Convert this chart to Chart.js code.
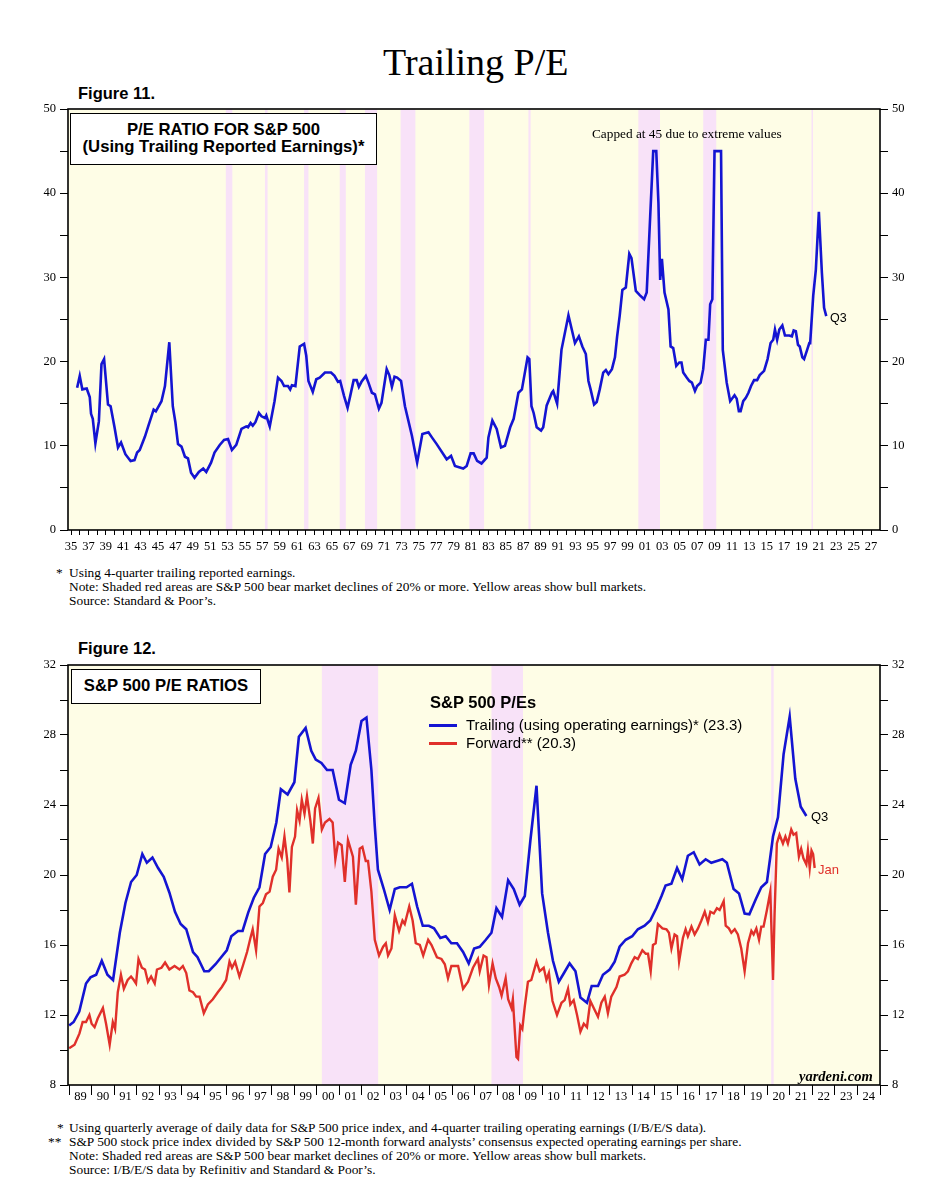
<!DOCTYPE html>
<html>
<head>
<meta charset="utf-8">
<title>Trailing P/E</title>
<script src="https://cdn.jsdelivr.net/npm/chart.js@4.4.0/dist/chart.umd.min.js"></script>
<style>
  body { margin: 0; background: #fff; }
  #page { position: relative; width: 940px; height: 1200px; overflow: hidden; color: #000;
          font-family: "Liberation Serif", "Times New Roman", serif; }
  .abs { position: absolute; white-space: nowrap; }
  .sans { font-family: "Liberation Sans", Arial, sans-serif; }
  .fig { font-weight: bold; font-size: 16.5px; line-height: 18px; }
  .box { background: #fff; border: 1.5px solid #000; text-align: center; font-weight: bold;
         font-size: 16.7px; line-height: 17px; box-sizing: border-box; }
  .note { font-size: 13.4px; line-height: 14px; }
  canvas { position: absolute; left: 0; }
</style>
</head>
<body>
<div id="page">
  <div class="abs" style="left:383px; top:40px; font-size:38px; line-height:44px;">Trailing P/E</div>

  <!-- Figure 11 -->
  <div class="abs sans fig" style="left:78px; top:84px;">Figure 11.</div>
  <canvas id="fig11" width="940" height="465" style="top:95px;"></canvas>
  <div class="abs sans box" style="left:70px; top:113px; width:307px; height:52px; padding-top:7px;">P/E RATIO FOR S&amp;P 500<br>(Using Trailing Reported Earnings)*</div>
  <div class="abs" style="left:592px; top:126px; font-size:13.3px; line-height:16px;">Capped at 45 due to extreme values</div>
  <div class="abs sans" style="left:830px; top:310px; font-size:12.5px; line-height:16px;">Q3</div>
  <div class="abs note" style="left:56px; top:566px;">*</div>
  <div class="abs note" style="left:69px; top:566px;">Using 4-quarter trailing reported earnings.<br>Note: Shaded red areas are S&amp;P 500 bear market declines of 20% or more. Yellow areas show bull markets.<br>Source: Standard &amp; Poor’s.</div>

  <!-- Figure 12 -->
  <div class="abs sans fig" style="left:78px; top:639px;">Figure 12.</div>
  <canvas id="fig12" width="940" height="465" style="top:650px;"></canvas>
  <div class="abs sans box" style="left:71px; top:669px; width:190px; height:35px; padding-top:7px;">S&amp;P 500 P/E RATIOS</div>
  <div class="abs sans" style="left:430px; top:692px; font-size:16.5px; line-height:20px; font-weight:bold;">S&amp;P 500 P/Es</div>
  <div class="abs" style="left:429px; top:724px; width:28px; height:3px; background:#1414d2;"></div>
  <div class="abs sans" style="left:466px; top:716px; font-size:15px; line-height:18px;">Trailing (using operating earnings)* (23.3)</div>
  <div class="abs" style="left:429px; top:742px; width:28px; height:3px; background:#e0302a;"></div>
  <div class="abs sans" style="left:466px; top:734px; font-size:15px; line-height:18px;">Forward** (20.3)</div>
  <div class="abs sans" style="left:811px; top:809px; font-size:13px; line-height:16px;">Q3</div>
  <div class="abs sans" style="left:818px; top:862px; font-size:13px; line-height:16px; color:#e0302a;">Jan</div>
  <div class="abs" style="left:799px; top:1068px; font-size:14.5px; line-height:17px; font-style:italic; font-weight:bold;">yardeni.com</div>
  <div class="abs note" style="left:57px; top:1121px;">*</div>
  <div class="abs note" style="left:48px; top:1135px;">**</div>
  <div class="abs note" style="left:69px; top:1121px;">Using quarterly average of daily data for S&amp;P 500 price index, and 4-quarter trailing operating earnings (I/B/E/S data).<br>S&amp;P 500 stock price index divided by S&amp;P 500 12-month forward analysts’ consensus expected operating earnings per share.<br>Note: Shaded red areas are S&amp;P 500 bear market declines of 20% or more. Yellow areas show bull markets.<br>Source: I/B/E/S data by Refinitiv and Standard &amp; Poor’s.</div>
</div>

<script>
// ---- Figure 11 data: trailing reported P/E (year, value) ----
const peYears11 = [1935.7, 1936.0, 1936.3, 1936.8, 1937.15, 1937.3, 1937.5, 1937.8, 1938.2, 1938.5, 1938.8,
  1939.25, 1939.55, 1940.0, 1940.4, 1940.75, 1941.25, 1941.85, 1942.3, 1942.6, 1942.9, 1943.5, 1943.9,
  1944.5, 1944.75, 1945.4, 1945.8, 1946.3, 1946.7, 1947.0, 1947.3, 1947.7, 1948.1, 1948.45, 1948.8,
  1949.2, 1949.7, 1950.2, 1950.55, 1951.1, 1951.5, 1952.1, 1952.6, 1953.05, 1953.5, 1954.0, 1954.6,
  1955.15, 1955.35, 1955.65, 1955.9, 1956.2, 1956.6, 1956.9, 1957.3, 1957.45, 1957.85, 1958.4, 1958.8,
  1959.2, 1959.5, 1959.95, 1960.2, 1960.4, 1960.8, 1961.3, 1961.8, 1962.05, 1962.3, 1962.8, 1963.2,
  1963.6, 1964.2, 1964.9, 1965.3, 1965.7, 1965.95, 1966.4, 1966.8, 1967.1, 1967.5, 1967.85, 1968.1,
  1968.4, 1968.9, 1969.2, 1969.6, 1969.95, 1970.4, 1970.7, 1971.3, 1971.6, 1971.9, 1972.2, 1972.5,
  1972.95, 1973.4, 1974.2, 1974.8, 1975.4, 1976.1, 1976.5, 1977.05, 1978.2, 1978.7, 1979.15, 1980.1,
  1980.5, 1980.95, 1981.3, 1981.7, 1982.2, 1982.8, 1983.0, 1983.45, 1983.95, 1984.45, 1984.9, 1985.5,
  1985.9, 1986.45, 1986.85, 1987.5, 1987.7, 1987.95, 1988.2, 1988.55, 1989.05, 1989.3, 1989.7, 1990.3,
  1990.45, 1990.9, 1991.4, 1992.2, 1992.95, 1993.4, 1993.8, 1994.2, 1994.5, 1994.75, 1995.15, 1995.45,
  1995.8, 1996.2, 1996.5, 1996.8, 1997.2, 1997.55, 1997.8, 1998.1, 1998.4, 1998.8, 1999.2, 1999.45,
  1999.95, 2000.4, 2000.9, 2001.2, 2001.6, 2001.95, 2002.3, 2002.55, 2002.75, 2002.95, 2003.25, 2003.7,
  2003.95, 2004.25, 2004.6, 2004.95, 2005.2, 2005.4, 2005.8, 2006.1, 2006.4, 2006.75, 2007.0, 2007.4,
  2007.7, 2008.0, 2008.3, 2008.5, 2008.75, 2009.0, 2009.75, 2009.95, 2010.4, 2010.8, 2011.3, 2011.55,
  2011.8, 2012.0, 2012.3, 2012.6, 2012.9, 2013.2, 2013.55, 2013.9, 2014.2, 2014.7, 2015.1, 2015.45,
  2015.75, 2015.95, 2016.2, 2016.45, 2016.8, 2017.1, 2017.6, 2017.9, 2018.1, 2018.35, 2018.6, 2018.8,
  2019.1, 2019.3, 2019.65, 2019.9, 2020.0, 2020.35, 2020.65, 2021.0, 2021.35, 2021.6, 2021.85];
const peValues11 = [16.9, 18.3, 16.7, 16.8, 15.8, 13.8, 13.2, 10.3, 12.9, 19.7, 20.3,
  14.9, 14.7, 12.2, 9.8, 10.4, 9.0, 8.2, 8.3, 9.2, 9.5, 11.1, 12.4,
  14.3, 14.1, 15.3, 17.1, 22.3, 14.7, 12.8, 10.2, 9.9, 8.7, 8.5, 6.8,
  6.2, 6.9, 7.3, 6.9, 8.0, 9.2, 10.1, 10.7, 10.8, 9.5, 10.1, 12.0,
  12.3, 12.2, 12.7, 12.4, 12.8, 13.9, 13.5, 13.3, 13.6, 12.3, 15.3, 18.1,
  17.7, 17.1, 17.1, 16.7, 17.2, 17.1, 21.8, 22.1, 20.7, 17.7, 16.4, 17.9,
  18.1, 18.7, 18.7, 18.3, 17.6, 17.7, 15.9, 14.5, 15.9, 17.8, 17.8, 17.0,
  17.6, 18.3, 17.5, 16.3, 16.1, 14.4, 15.1, 19.1, 18.4, 17.0, 18.2, 18.1,
  17.7, 14.7, 11.2, 8.0, 11.4, 11.6, 11.0, 10.2, 8.4, 8.8, 7.6, 7.3,
  7.6, 9.1, 9.1, 8.2, 7.9, 8.6, 11.0, 13.0, 12.0, 9.8, 10.0, 12.2,
  13.2, 16.3, 16.7, 20.5, 20.3, 14.7, 13.9, 12.2, 11.8, 12.2, 14.8, 16.3,
  16.5, 15.0, 21.4, 25.5, 22.2, 23.0, 21.8, 20.9, 17.7, 16.7, 14.9, 15.2,
  16.7, 18.7, 19.0, 18.5, 19.1, 20.5, 23.0, 25.5, 28.5, 28.8, 32.8, 32.3,
  28.4, 27.9, 27.4, 28.2, 37.2, 45, 45, 38.8, 29.7, 32.2, 28.2, 26.2,
  21.8, 21.6, 19.5, 19.9, 19.9, 18.7, 18.1, 17.7, 17.5, 16.5, 17.1, 17.5,
  19.1, 22.6, 22.6, 26.8, 27.4, 45, 45, 21.4, 17.5, 15.3, 16.0, 15.6,
  14.1, 14.1, 15.3, 15.7, 16.3, 17.1, 17.8, 17.8, 18.4, 18.9, 20.3, 22.2,
  22.6, 23.8, 22.6, 23.8, 24.3, 23.1, 23.1, 23.0, 23.7, 23.6, 22.0, 21.8,
  20.5, 20.3, 21.4, 22.2, 22.2, 27.8, 30.9, 37.8, 30.5, 26.4, 25.4];

// bear markets (shaded red), figure 11
const bearStart11 = [1952.8, 1957.3, 1961.8, 1965.9, 1968.8, 1972.9, 1980.8, 1987.6, 2000.24, 2007.7, 2020.15];
const bearEnd11   = [1953.55, 1957.6, 1962.3, 1966.6, 1970.2, 1974.6, 1982.5, 1987.85, 2002.73, 2009.2, 2020.3];

// ---- Figure 12 data ----
const trailYears12 = [1989.0, 1989.2, 1989.45, 1989.75, 1989.95, 1990.2, 1990.45, 1990.7, 1990.95, 1991.25,
  1991.5, 1991.75, 1992.0, 1992.25, 1992.45, 1992.7, 1992.95, 1993.2, 1993.45, 1993.7, 1993.95, 1994.2,
  1994.5, 1994.7, 1995.0, 1995.2, 1995.5, 1995.75, 1996.0, 1996.2, 1996.5, 1996.7, 1996.95, 1997.2,
  1997.45, 1997.7, 1997.95, 1998.2, 1998.4, 1998.7, 1999.0, 1999.2, 1999.5, 1999.75, 1999.95, 2000.2,
  2000.45, 2000.7, 2000.98, 2001.24, 2001.5, 2001.73, 2001.98, 2002.2, 2002.42, 2002.57, 2002.71, 2002.97,
  2003.23, 2003.46, 2003.68, 2003.98, 2004.22, 2004.45, 2004.7, 2004.97, 2005.2, 2005.48, 2005.72, 2005.97,
  2006.22, 2006.49, 2006.74, 2006.98, 2007.23, 2007.5, 2007.75, 2007.97, 2008.22, 2008.49, 2008.74, 2009.0,
  2009.23, 2009.48, 2009.75, 2010.0, 2010.26, 2010.48, 2010.74, 2010.97, 2011.22, 2011.48, 2011.7, 2011.99,
  2012.2, 2012.48, 2012.7, 2013.0, 2013.22, 2013.44, 2013.71, 2014.0, 2014.25, 2014.55, 2014.8, 2015.07,
  2015.3, 2015.48, 2015.74, 2015.99, 2016.22, 2016.47, 2016.73, 2016.99, 2017.26, 2017.51, 2017.76, 2018.0,
  2018.2, 2018.5, 2018.74, 2018.99, 2019.2, 2019.48, 2019.73, 2019.98, 2020.25, 2020.47, 2020.72, 2020.99,
  2021.24, 2021.48, 2021.73];
const trailValues12 = [11.4, 11.6, 12.2, 13.8, 14.15, 14.3, 15.1, 14.3, 14.0, 16.7,
  18.4, 19.6, 20.0, 21.2, 20.7, 21.0, 20.4, 19.9, 19.0, 17.9, 17.2, 16.9,
  15.6, 15.3, 14.5, 14.5, 14.9, 15.3, 15.7, 16.5, 16.8, 16.8, 17.85, 18.7,
  19.3, 21.2, 21.6, 23.0, 24.9, 24.6, 25.3, 27.9, 28.4, 27.1, 26.6, 26.4,
  26.0, 26.0, 24.3, 24.1, 26.3, 27.1, 28.8, 29.0, 26.0, 22.8, 20.3, 19.2,
  18.0, 19.2, 19.3, 19.3, 19.5, 18.2, 17.1, 17.1, 16.95, 16.4, 16.5, 16.1,
  16.1, 15.6, 14.95, 15.8, 15.9, 16.3, 16.7, 18.1, 17.6, 19.7, 19.2, 18.3,
  18.8, 22.0, 25.1, 18.95, 16.7, 15.1, 13.9, 14.4, 14.95, 14.5, 13.0, 12.7,
  13.66, 13.66, 14.3, 14.6, 15.05, 15.9, 16.3, 16.5, 16.9, 17.1, 17.4, 18.1,
  18.8, 19.4, 19.5, 20.4, 19.75, 21.1, 21.3, 20.6, 20.9, 20.7, 20.8, 20.9,
  20.7, 19.2, 18.95, 17.8, 17.75, 18.6, 19.3, 19.6, 22.2, 23.3, 26.9, 29.05,
  25.5, 23.9, 23.37];

const fwdYears12 = [1989.0, 1989.24, 1989.46, 1989.6, 1989.75, 1989.9, 1990.0, 1990.13, 1990.27, 1990.5,
  1990.64, 1990.8, 1990.94, 1991.04, 1991.16, 1991.3, 1991.43, 1991.6, 1991.75, 1991.87, 1991.97, 1992.08,
  1992.23, 1992.37, 1992.5, 1992.64, 1992.8, 1992.9, 1993.1, 1993.26, 1993.45, 1993.68, 1993.9, 1994.05,
  1994.2, 1994.34, 1994.5, 1994.64, 1994.79, 1994.98, 1995.16, 1995.38, 1995.6, 1995.78, 1995.97, 1996.12,
  1996.23, 1996.37, 1996.56, 1996.71, 1996.9, 1997.05, 1997.15, 1997.3, 1997.45, 1997.6, 1997.74, 1997.9,
  1998.04, 1998.19, 1998.3, 1998.44, 1998.56, 1998.68, 1998.78, 1998.89, 1999.03, 1999.12, 1999.23, 1999.33,
  1999.45, 1999.56, 1999.71, 1999.82, 1999.92, 2000.07, 2000.22, 2000.36, 2000.56, 2000.7, 2000.82, 2000.94,
  2001.1, 2001.24, 2001.38, 2001.6, 2001.73, 2001.9, 2002.02, 2002.17, 2002.27, 2002.42, 2002.57, 2002.76,
  2002.94, 2003.06, 2003.16, 2003.31, 2003.46, 2003.65, 2003.8, 2003.9, 2004.1, 2004.25, 2004.39, 2004.57,
  2004.72, 2004.94, 2005.09, 2005.33, 2005.53, 2005.68, 2005.82, 2005.97, 2006.27, 2006.49, 2006.71, 2006.93,
  2007.15, 2007.23, 2007.4, 2007.53, 2007.64, 2007.8, 2007.94, 2008.09, 2008.2, 2008.38, 2008.49, 2008.64,
  2008.7, 2008.86, 2008.93, 2009.03, 2009.12, 2009.23, 2009.37, 2009.52, 2009.75, 2009.89, 2010.07, 2010.19,
  2010.3, 2010.46, 2010.66, 2010.86, 2011.0, 2011.15, 2011.25, 2011.4, 2011.55, 2011.7, 2011.85, 2011.99,
  2012.14, 2012.29, 2012.48, 2012.63, 2012.78, 2012.92, 2013.07, 2013.3, 2013.44, 2013.66, 2013.81, 2013.96,
  2014.11, 2014.25, 2014.45, 2014.6, 2014.7, 2014.82, 2014.92, 2015.04, 2015.14, 2015.34, 2015.52, 2015.63,
  2015.74, 2015.88, 2015.99, 2016.08, 2016.25, 2016.37, 2016.47, 2016.63, 2016.77, 2016.92, 2017.07, 2017.22,
  2017.36, 2017.47, 2017.62, 2017.76, 2017.88, 2018.06, 2018.15, 2018.29, 2018.4, 2018.55, 2018.69, 2018.84,
  2018.99, 2019.14, 2019.29, 2019.39, 2019.51, 2019.63, 2019.73, 2019.83, 2019.98, 2020.13, 2020.25, 2020.32,
  2020.42, 2020.54, 2020.69, 2020.8, 2020.91, 2021.06, 2021.16, 2021.28, 2021.4, 2021.5, 2021.6, 2021.73,
  2021.8, 2021.88, 2021.96, 2022.03, 2022.1];
const fwdValues12 = [10.1, 10.3, 10.95, 11.6, 11.6, 12.0, 11.5, 11.3, 11.8, 12.4,
  11.5, 10.3, 11.6, 11.2, 13.3, 14.3, 13.5, 14.0, 14.2, 14.0, 13.8, 15.2,
  14.7, 14.6, 13.9, 14.2, 13.8, 14.6, 14.7, 15.0, 14.6, 14.8, 14.6, 14.8,
  14.4, 13.4, 13.3, 13.05, 13.05, 12.1, 12.6, 12.9, 13.3, 13.6, 14.0, 15.05,
  14.7, 15.05, 14.2, 14.8, 15.6, 16.4, 16.9, 15.7, 18.2, 18.4, 18.9, 19.05,
  19.9, 20.3, 21.5, 21.0, 22.2, 20.9, 19.0, 21.6, 22.2, 23.7, 23.1, 24.3,
  23.5, 24.5, 23.1, 21.8, 23.8, 24.4, 22.6, 23.0, 23.2, 23.0, 20.9, 21.85,
  21.7, 19.6, 22.0, 21.05, 18.3, 21.5, 21.6, 20.8, 20.8, 19.05, 16.3, 15.4,
  15.9, 16.1, 15.4, 15.8, 17.7, 16.8, 17.4, 17.2, 18.2, 17.4, 16.1, 16.0,
  15.4, 16.3, 16.0, 15.3, 15.2, 14.9, 14.1, 14.8, 14.8, 13.5, 13.9, 14.7,
  15.2, 14.5, 15.4, 15.3, 13.7, 14.95, 14.1, 13.6, 13.1, 14.1, 12.9, 12.4,
  12.9, 9.6, 9.5, 11.4, 11.2, 12.5, 13.9, 14.0, 15.05, 14.5, 14.7, 14.0,
  14.4, 12.8, 12.0, 12.7, 12.85, 13.5, 12.6, 12.85, 12.0, 11.05, 11.5, 11.3,
  12.8, 12.4, 11.9, 12.7, 13.05, 12.1, 13.05, 13.6, 14.2, 14.3, 14.5, 14.95,
  15.3, 15.2, 15.7, 15.5, 15.5, 14.5, 16.0, 16.1, 17.2, 16.95, 16.9, 16.7,
  15.8, 16.6, 16.5, 15.05, 16.4, 16.9, 16.5, 17.05, 16.6, 16.95, 17.4, 17.9,
  17.3, 17.9, 17.8, 18.1, 18.0, 18.5, 17.1, 16.95, 16.7, 16.9, 16.6, 15.8,
  14.5, 16.1, 16.8, 16.6, 16.95, 16.3, 17.05, 17.05, 18.0, 19.05, 14.0, 17.8,
  21.8, 22.3, 21.8, 22.2, 21.8, 22.6, 22.3, 22.4, 21.05, 21.5, 20.95, 20.6,
  21.4, 20.4, 21.4, 21.2, 20.4];

const bearStart12 = [2000.22, 2007.75, 2020.17];
const bearEnd12   = [2002.72, 2009.15, 2020.28];

// tick labels
const xLabels12 = ['89', '90', '91', '92', '93', '94', '95', '96', '97', '98', '99', '00', '01', '02', '03', '04', '05', '06',
  '07', '08', '09', '10', '11', '12', '13', '14', '15', '16', '17', '18', '19', '20', '21', '22', '23', '24'];
const firstYear11 = 1935, lastYear11 = 2027;

const BLUE = '#1414d2';
const RED = '#e0302a';
const BULL = '#fefde6';
const BEAR = '#f8e2f8';

function toPoints(xs, ys) {
    return xs.map(function (x, i) { return { x: x, y: ys[i] }; });
}

// paints the yellow/pink market backgrounds and the plot frame
const shadePlugin = {
    id: 'shade',
    beforeDatasetsDraw(chart, args, opts) {
        const a = chart.chartArea, ctx = chart.ctx, xs = chart.scales.x;
        ctx.save();
        ctx.fillStyle = BULL;
        ctx.fillRect(a.left, a.top, a.right - a.left, a.bottom - a.top);
        ctx.fillStyle = BEAR;
        opts.starts.forEach(function (s, i) {
            const x0 = Math.max(xs.getPixelForValue(s), a.left);
            const x1 = Math.max(xs.getPixelForValue(opts.ends[i]), x0 + 1.5);
            ctx.fillRect(x0, a.top, x1 - x0, a.bottom - a.top);
        });
        ctx.restore();
    },
    afterDraw(chart) {
        const a = chart.chartArea, ctx = chart.ctx;
        ctx.save();
        ctx.strokeStyle = '#000';
        ctx.lineWidth = 1.6;
        ctx.strokeRect(a.left, a.top, a.right - a.left, a.bottom - a.top);
        ctx.restore();
    }
};

Chart.defaults.font.family = '"Liberation Serif", "Times New Roman", serif';
Chart.defaults.font.size = 12.5;
Chart.defaults.color = '#000';

function yAxis(pos, min, max, step, every) {
    return {
        type: 'linear', position: pos, min: min, max: max,
        afterFit: function (s) { s.width = pos === 'left' ? 68 : 60; },
        border: { display: false },
        grid: { drawOnChartArea: false, color: '#000', tickLength: 8 },
        ticks: {
            stepSize: step, padding: 4,
            callback: function (v) { return v % every === 0 ? v : ''; }
        }
    };
}

// Figure 11
new Chart(document.getElementById('fig11').getContext('2d'), {
    type: 'line',
    data: {
        datasets: [{
            data: toPoints(peYears11, peValues11),
            borderColor: BLUE,
            borderWidth: 2.6,
            pointRadius: 0,
            fill: false
        }]
    },
    options: {
        responsive: false,
        animation: false,
        layout: { padding: { top: 14, left: 0, right: 0, bottom: 0 } },
        plugins: {
            legend: { display: false },
            tooltip: { enabled: false },
            shade: { starts: bearStart11, ends: bearEnd11 }
        },
        scales: {
            x: {
                type: 'linear', min: 1934.65, max: 2028.03,
                afterFit: function (s) { s.height = 30; },
                afterBuildTicks: function (s) {
                    const t = [];
                    for (let y = firstYear11; y <= lastYear11; y++) t.push({ value: y });
                    s.ticks = t;
                },
                border: { display: false },
                grid: { drawOnChartArea: false, color: '#000', tickLength: 5 },
                ticks: {
                    autoSkip: false, maxRotation: 0, padding: 4,
                    callback: function (v) { return v % 2 === 1 ? String(v).slice(2) : ''; }
                }
            },
            y: yAxis('left', 0, 50, 5, 10),
            y2: yAxis('right', 0, 50, 5, 10)
        }
    },
    plugins: [shadePlugin]
});

// Figure 12
new Chart(document.getElementById('fig12').getContext('2d'), {
    type: 'line',
    data: {
        datasets: [{
            label: 'Trailing (using operating earnings)*',
            data: toPoints(trailYears12, trailValues12),
            borderColor: BLUE,
            borderWidth: 2.6,
            pointRadius: 0,
            fill: false
        }, {
            label: 'Forward**',
            data: toPoints(fwdYears12, fwdValues12),
            borderColor: RED,
            borderWidth: 2.4,
            pointRadius: 0,
            fill: false
        }]
    },
    options: {
        responsive: false,
        animation: false,
        layout: { padding: { top: 15, left: 0, right: 0, bottom: 0 } },
        plugins: {
            legend: { display: false },
            tooltip: { enabled: false },
            shade: { starts: bearStart12, ends: bearEnd12 }
        },
        scales: {
            x: {
                type: 'linear', min: 1988.95, max: 2025.0,
                afterFit: function (s) { s.height = 30; },
                afterBuildTicks: function (s) {
                    s.ticks = xLabels12.map(function (lab, i) { return { value: 1989.5 + i }; });
                },
                border: { display: false },
                grid: { drawOnChartArea: false, color: '#000', tickLength: 10, offset: true },
                ticks: {
                    autoSkip: false, maxRotation: 0, padding: -6,
                    callback: function (v, i) { return xLabels12[i]; }
                }
            },
            y: yAxis('left', 8, 32, 2, 4),
            y2: yAxis('right', 8, 32, 2, 4)
        }
    },
    plugins: [shadePlugin]
});
</script>
</body>
</html>
